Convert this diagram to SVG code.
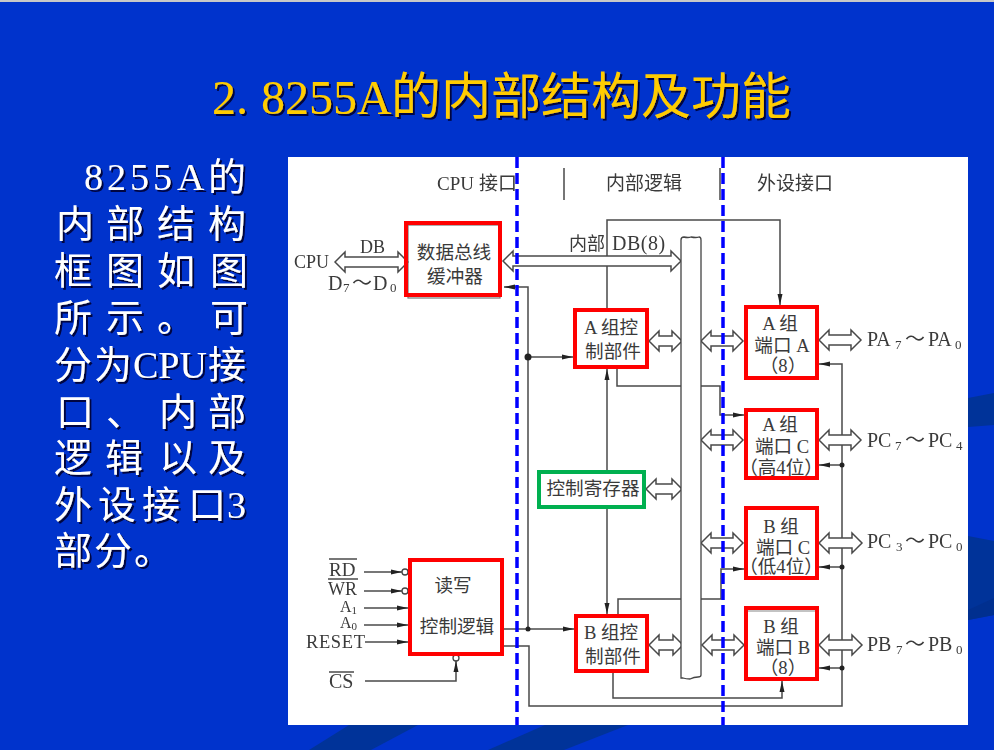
<svg xmlns="http://www.w3.org/2000/svg" width="994" height="750" viewBox="0 0 994 750">
<defs>
<filter id="sh" x="-5%" y="-5%" width="110%" height="110%"><feDropShadow dx="2" dy="2" stdDeviation="0.3" flood-color="#000033" flood-opacity="0.9"/></filter>
<filter id="soft" x="-2%" y="-2%" width="104%" height="104%"><feGaussianBlur stdDeviation="0.35"/></filter>
<marker id="ah" markerWidth="12" markerHeight="7" refX="11" refY="3.5" orient="auto" markerUnits="userSpaceOnUse"><path d="M0 1 L11 3.5 L0 6 Z" fill="#222"/></marker>
</defs>
<style>
.cjk{font-family:"Liberation Serif","Noto Sans CJK SC",serif}
.title{font-size:50px;fill:#ffcc00}
.body{font-size:38px;fill:#fff}
.t{font-family:"Liberation Serif","Noto Sans CJK SC",serif;font-size:18.6px;fill:#3a3a3a;text-anchor:middle}
.l{font-family:"Liberation Serif","Noto Sans CJK SC",serif;font-size:18px;fill:#3a3a3a}
.m{font-size:20px}
.sub{font-size:13px}
.w{fill:none;stroke:#4a4a4a;stroke-width:1.5}
.a{fill:#fff;stroke:#4a4a4a;stroke-width:1.5}
.r{fill:none;stroke:#ff0000;stroke-width:4}
.g{fill:none;stroke:#00b050;stroke-width:4}
.fr{fill:none;stroke:#777;stroke-width:1.2}
.d{fill:#222}
.b{fill:#fff;stroke:#444;stroke-width:1.3}
.sep{stroke:#0000ff;stroke-width:3.5;stroke-dasharray:11 5;fill:none}
</style>
<rect id="background" width="994" height="750" fill="#0033cc"/>
<rect width="994" height="2" fill="#c8c8c8"/>
<g id="decor" fill="#003399">
<path d="M349 725 L418 725 L371 750 L309 750 Z"/>
<path d="M545 725 L628 725 L564 750 L488 750 Z"/>
<path d="M968 398 L994 393 L994 425 L968 427 Z"/>
<path d="M968 536 L994 541 L994 615 L968 620 Z"/>
<path d="M968 610 L994 598 L994 615 L968 620 Z" fill="#002f8f"/>
</g>
<text id="title" class="cjk title" y="114" filter="url(#sh)"><tspan x="212" font-size="48">2.</tspan><tspan x="261" font-size="48">8255A</tspan><tspan x="391 441 491 541 591 641 691 741">的内部结构及功能</tspan></text>
<g id="body" class="cjk body" filter="url(#sh)">
<text y="190"><tspan x="84 107 130 153 177">8255A</tspan><tspan x="208">的</tspan></text>
<text y="237" x="56 106 157 208">内部结构</text>
<text y="284" x="54 106 157 210">框图如图</text>
<text y="331" x="54 106 157 210">所示。可</text>
<text y="378"><tspan x="54 94">分为</tspan><tspan x="133">CPU</tspan><tspan x="208">接</tspan></text>
<text y="425" x="56 106 159 208">口、内部</text>
<text y="471" x="54 105 159 208">逻辑以及</text>
<text y="518"><tspan x="54 98 142 188">外设接口</tspan><tspan x="227">3</tspan></text>
<text y="564" x="54 94 134">部分。</text>
</g>
<rect id="panel" x="288" y="157" width="680" height="568" fill="#fff"/>
<g filter="url(#soft)">
<g id="connectors">
<path class="w" d="M607 308 V220 H780 V305" marker-end="url(#ah)"/>
<path class="w" d="M528 628 V287 H504" marker-end="url(#ah)"/>
<path class="w" d="M528 357 H573" marker-end="url(#ah)"/>
<path class="w" d="M607 470 V369" marker-end="url(#ah)"/>
<path class="w" d="M607 509 V614" marker-end="url(#ah)"/>
<path class="w" d="M617 369 V386 H720 V415 H744" marker-end="url(#ah)"/>
<path class="w" d="M618 614 V599 H721 V569 H744" marker-end="url(#ah)"/>
<path class="w" d="M613 673 V698 H782 V681" marker-end="url(#ah)"/>
<path class="w" d="M504 629 H574" marker-end="url(#ah)"/>
<path class="w" d="M504 646 H529 V706 H842 V364 H819" marker-end="url(#ah)"/>
<path class="w" d="M842 465 H819" marker-end="url(#ah)"/>
<path class="w" d="M842 567 H819" marker-end="url(#ah)"/>
<path class="w" d="M842 668 H819" marker-end="url(#ah)"/>
<path class="w" d="M364 572 H402" marker-end="url(#ah)"/>
<path class="w" d="M364 591 H402" marker-end="url(#ah)"/>
<path class="w" d="M364 608 H408" marker-end="url(#ah)"/>
<path class="w" d="M364 625 H408" marker-end="url(#ah)"/>
<path class="w" d="M365 642 H408" marker-end="url(#ah)"/>
<path class="w" d="M365 681 H456 V661" marker-end="url(#ah)"/>
<path class="w" d="M564 168 V200 M720 168 V200"/>
<circle class="d" cx="528" cy="357" r="3.5"/>
<circle class="d" cx="528" cy="629" r="2.5"/>
<circle class="d" cx="842" cy="465" r="2.5"/>
<circle class="d" cx="842" cy="567" r="2.5"/>
<circle class="d" cx="842" cy="668" r="2.5"/>
<circle class="b" cx="405" cy="572" r="3"/>
<circle class="b" cx="405" cy="591" r="3"/>
<circle class="b" cx="456" cy="658" r="3"/>
<path class="a" d="M335 262 L345 252 V257 H398 V252 L408 262 L398 272 V267 H345 V272 Z"/>
<path class="a" d="M503 261 L513 251 V256 H671 V251 L681 261 L671 271 V266 H513 V271 Z"/>
<path class="a" d="M649 341 L659 331 V336 H672 V331 L682 341 L672 351 V346 H659 V351 Z"/>
<path class="a" d="M701 341 L711 331 V336 H733 V331 L743 341 L733 351 V346 H711 V351 Z"/>
<path class="a" d="M819 340 L829 330 V335 H851 V330 L861 340 L851 350 V345 H829 V350 Z"/>
<path class="a" d="M701 440 L711 430 V435 H733 V430 L743 440 L733 450 V445 H711 V450 Z"/>
<path class="a" d="M819 440 L829 430 V435 H851 V430 L861 440 L851 450 V445 H829 V450 Z"/>
<path class="a" d="M646 489 L656 479 V484 H672 V479 L682 489 L672 499 V494 H656 V499 Z"/>
<path class="a" d="M701 543 L711 533 V538 H733 V533 L743 543 L733 553 V548 H711 V553 Z"/>
<path class="a" d="M819 543 L829 533 V538 H852 V533 L862 543 L852 553 V548 H829 V553 Z"/>
<path class="a" d="M649 645 L659 635 V640 H673 V635 L683 645 L673 655 V650 H659 V655 Z"/>
<path class="a" d="M702 645 L712 635 V640 H734 V635 L744 645 L734 655 V650 H712 V655 Z"/>
<path class="a" d="M819 645 L829 635 V640 H852 V635 L862 645 L852 655 V650 H829 V655 Z"/>
</g>
<g id="bus"><path class="b" d="M681 678 V240 Q681 237 684 237 Q688 238 691 237 Q696 238 699 237 Q701 237 701 240 V675 Q701 677 698 677 Q694 677 690 679 Q686 679 683 678 Z"/></g>
<g id="labels">
<text class="l" y="190" style="font-size:19px"><tspan x="437">CPU</tspan><tspan x="479">接口</tspan></text>
<text class="l" x="606" y="190" style="font-size:19px">内部逻辑</text>
<text class="l" x="757" y="190" style="font-size:19px">外设接口</text>
<text class="l" x="360" y="253">DB</text>
<text class="l" x="294" y="268">CPU</text>
<text class="l m" y="290"><tspan x="328">D</tspan><tspan class="sub" x="343" y="292">7</tspan><tspan x="352" y="290">～</tspan><tspan x="373">D</tspan><tspan class="sub" x="390" y="292">0</tspan></text>
<text class="l" x="569" y="250">内部</text>
<text class="l m" x="612" y="250" letter-spacing="0.5">DB(8)</text>
<text class="l m" y="346"><tspan x="867">PA</tspan><tspan class="sub" x="895" y="349">7</tspan><tspan x="905" y="346">～</tspan><tspan x="928">PA</tspan><tspan class="sub" x="955" y="349">0</tspan></text>
<text class="l m" y="447"><tspan x="867">PC</tspan><tspan class="sub" x="895" y="450">7</tspan><tspan x="905" y="447">～</tspan><tspan x="928">PC</tspan><tspan class="sub" x="956" y="450">4</tspan></text>
<text class="l m" y="548"><tspan x="867">PC</tspan><tspan class="sub" x="896" y="551">3</tspan><tspan x="905" y="548">～</tspan><tspan x="928">PC</tspan><tspan class="sub" x="956" y="551">0</tspan></text>
<text class="l m" y="651"><tspan x="867">PB</tspan><tspan class="sub" x="896" y="654">7</tspan><tspan x="905" y="651">～</tspan><tspan x="928">PB</tspan><tspan class="sub" x="956" y="654">0</tspan></text>
<text class="l" x="329" y="576" style="font-size:19px">RD</text><path class="w" d="M329 559 H357"/>
<text class="l" x="328" y="595" style="font-size:18px">WR</text><path class="w" d="M328 579 H358"/>
<text class="l" x="340" y="612" style="font-size:16px">A<tspan font-size="11" dy="2">1</tspan></text>
<text class="l" x="340" y="628" style="font-size:16px">A<tspan font-size="11" dy="2">0</tspan></text>
<text class="l" x="306" y="648" style="font-size:18.5px" letter-spacing="0.6">RESET</text>
<text class="l m" x="329" y="688">CS</text><path class="w" d="M329 672 H354"/>
</g>
</g>
<g id="node-buffer">
<rect class="fr" x="408" y="225" width="92" height="73"/>
<rect class="r" x="406" y="223" width="94" height="72"/>
<text class="t" x="454" y="259">数据总线</text>
<text class="t" x="455" y="283">缓冲器</text>
</g>
<g id="node-rw">
<rect class="r" x="410" y="560" width="92" height="94"/>
<text class="t" x="453" y="592">读写</text>
<text class="t" x="457" y="633">控制逻辑</text>
</g>
<g id="node-a-ctrl">
<rect class="r" x="575" y="310" width="72" height="57"/>
<text class="t" x="611" y="334">A 组控</text>
<text class="t" x="613" y="358">制部件</text>
</g>
<g id="node-ctrl-reg">
<rect class="g" x="539" y="472" width="105" height="35"/>
<text class="t" x="593" y="495">控制寄存器</text>
</g>
<g id="node-b-ctrl">
<rect class="r" x="576" y="616" width="71" height="55"/>
<text class="t" x="611" y="639">B 组控</text>
<text class="t" x="613" y="663">制部件</text>
</g>
<g id="node-port-a">
<rect class="r" x="746" y="307" width="71" height="71"/>
<text class="t" x="780" y="330">A 组</text>
<text class="t" x="782" y="352">端口 A</text>
<text class="t" x="783" y="372">（8）</text>
</g>
<g id="node-port-ca">
<rect class="r" x="746" y="410" width="71" height="68"/>
<text class="t" x="780" y="431">A 组</text>
<text class="t" x="782" y="453">端口 C</text>
<text class="t" x="781" y="474">（高4位）</text>
</g>
<g id="node-port-cb">
<rect class="r" x="746" y="508" width="71" height="70"/>
<text class="t" x="781" y="533">B 组</text>
<text class="t" x="783" y="554">端口 C</text>
<text class="t" x="781" y="573">（低4位）</text>
</g>
<g id="node-port-b">
<line x1="748" y1="611" x2="815" y2="611" stroke="#888" stroke-width="1.2"/>
<rect class="r" x="746" y="608" width="71" height="71"/>
<text class="t" x="781" y="633">B 组</text>
<text class="t" x="783" y="654">端口 B</text>
<text class="t" x="783" y="674">（8）</text>
</g>
<g id="separators">
<line class="sep" x1="517" y1="157" x2="517" y2="725"/>
<line class="sep" x1="723" y1="157" x2="723" y2="725"/>
</g>
</svg>
